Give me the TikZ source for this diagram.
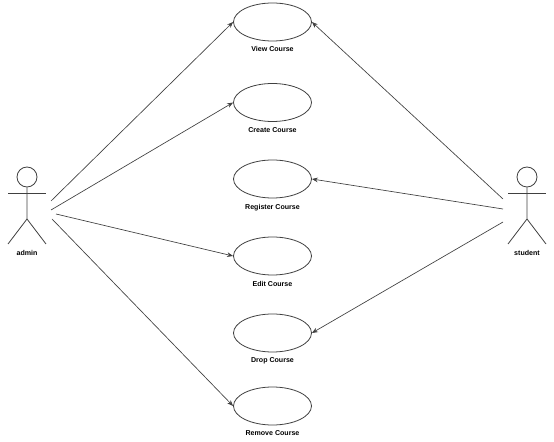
\documentclass[tikz,border=0pt]{standalone}
\usepackage{fontspec}
\setmainfont{Liberation Sans}
\usetikzlibrary{shapes.geometric,arrows.meta}
\definecolor{umlline}{gray}{0.25}
\tikzset{
  usecase/.style={ellipse, draw=umlline, line width=0.6pt, minimum width=58.5pt, minimum height=28.5pt, inner sep=0pt},
  caption/.style={font=\fontsize{5.3}{6}\selectfont\bfseries, inner sep=0pt},
  stick/.style={draw=umlline, line width=0.6pt},
  head/.style={circle, draw=umlline, line width=0.6pt, minimum size=15pt, inner sep=0pt},
  assoc/.style={draw=umlline, line width=0.5pt, -{Stealth[length=4.5pt,width=3.5pt]}}
}
\begin{document}
\begin{tikzpicture}[x=0.75pt, y=-0.75pt]
    \useasboundingbox (0,0) rectangle (554,442);
    % use cases
    \node[usecase] (view) at (272.5,22) {};
    \node[usecase] (create) at (272.5,102.5) {};
    \node[usecase] (register) at (272.5,179) {};
    \node[usecase] (edit) at (272.5,256) {};
    \node[usecase] (drop) at (272.5,333) {};
    \node[usecase] (remove) at (272.5,406) {};
    \node[caption] (viewlabel) at (272.5,48.7) {View Course};
    \node[caption] (createlabel) at (272.5,130.2) {Create Course};
    \node[caption] (registerlabel) at (272.5,207.2) {Register Course};
    \node[caption] (editlabel) at (272.5,283.7) {Edit Course};
    \node[caption] (droplabel) at (272.5,360.7) {Drop Course};
    \node[caption] (removelabel) at (272.5,433.2) {Remove Course};
    % admin
    \node[head] (ahead) at (27,177) {};
    \coordinate (ahip) at (27,219);
    \coordinate (aarml) at (8,193);
    \coordinate (aarmr) at (46,193);
    \coordinate (alegl) at (8,244);
    \coordinate (alegr) at (46,244);
    \path[stick] (ahead)--(ahip)--(alegl);
    \path[stick] (ahip)--(alegr);
    \path[stick] (aarml)--(aarmr);
    \node[caption] (admin) at (27,252.7) {admin};
    % student
    \node[head] (shead) at (527,177) {};
    \coordinate (ship) at (527,219);
    \coordinate (sarml) at (508,193);
    \coordinate (sarmr) at (546,193);
    \coordinate (slegl) at (508,244);
    \coordinate (slegr) at (546,244);
    \path[stick] (shead)--(ship)--(slegl);
    \path[stick] (ship)--(slegr);
    \path[stick] (sarml)--(sarmr);
    \node[caption] (student) at (527,252.7) {student};
    % free ends of the associations
    \coordinate (a1) at (51,201);
    \coordinate (a2) at (51,210);
    \coordinate (a3) at (56,214);
    \coordinate (a4) at (52,219);
    \coordinate (s1) at (503,199);
    \coordinate (s2) at (503,209);
    \coordinate (s3) at (503,222);
    \draw[assoc] (a1)--(view.west);
    \draw[assoc] (a2)--(create.west);
    \draw[assoc] (a3)--(edit.west);
    \draw[assoc] (a4)--(remove.west);
    \draw[assoc] (s1)--(view.east);
    \draw[assoc] (s2)--(register.east);
    \draw[assoc] (s3)--(drop.east);
\end{tikzpicture}
\end{document}
